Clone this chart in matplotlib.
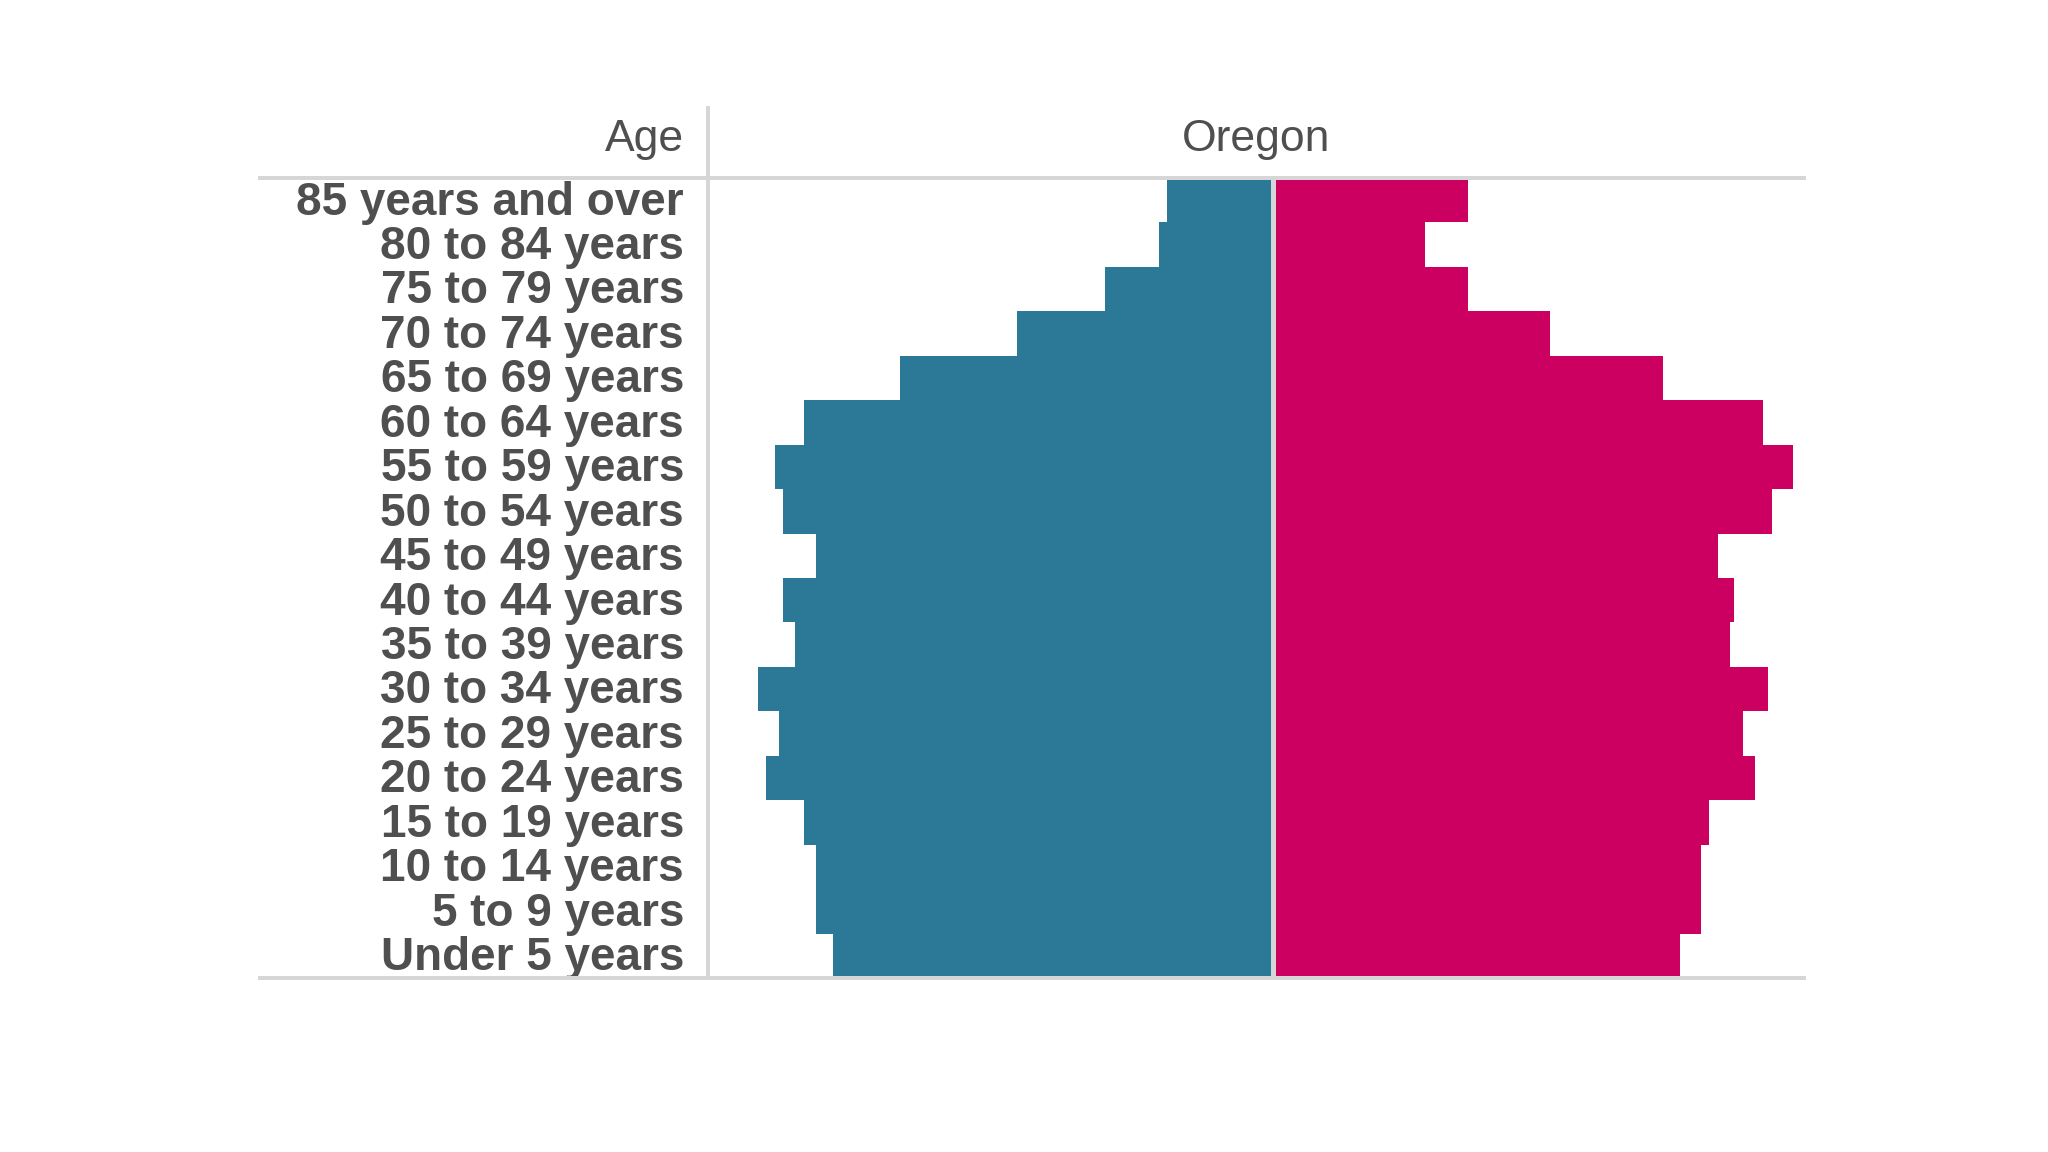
import numpy as np
import matplotlib
matplotlib.use("Agg")
from matplotlib import pyplot as plt
from matplotlib.lines import Line2D

# age groups, bottom to top
age_groups = ["Under 5 years", "5 to 9 years", "10 to 14 years", "15 to 19 years",
              "20 to 24 years", "25 to 29 years", "30 to 34 years", "35 to 39 years",
              "40 to 44 years", "45 to 49 years", "50 to 54 years", "55 to 59 years",
              "60 to 64 years", "65 to 69 years", "70 to 74 years", "75 to 79 years",
              "80 to 84 years", "85 years and over"]

# bar lengths (relative units)
male = [440, 457, 457, 469, 507, 494, 515, 478, 490, 457, 490, 498,
        469, 373, 256, 168, 114, 106]
female = [407, 428, 428, 436, 482, 470, 495, 457, 461, 445, 499, 520,
          490, 390, 277, 195, 152, 195]

male_color = "#2b7997"
female_color = "#cc0060"
rule_color = "#d6d6d6"
text_color = "#4f4f4f"

plt.rcParams["font.family"] = ["Liberation Sans", "DejaVu Sans"]

W, H = 2048, 1152
fig = plt.figure(figsize=(W / 100, H / 100), dpi=100)

# pixel layout
x_div, x_right, x_line_left = 708, 1804, 260
y_top, y_bot, y_div_top = 178, 978, 108
x_center = 1272.5

ax = fig.add_axes([x_div / W, 1 - y_bot / H, (x_right - x_div) / W, (y_bot - y_top) / H])

y = np.arange(len(age_groups))
ax.barh(y, -np.array(male), height=1.0, color=male_color, linewidth=0)
ax.barh(y, female, height=1.0, color=female_color, linewidth=0)
ax.axvline(0, color=rule_color, lw=5 * 0.72)

ax.set_xlim(-(x_center - x_div), x_right - x_center)
ax.set_ylim(-0.5, len(age_groups) - 0.5)
for s in ax.spines.values():
    s.set_visible(False)
ax.set_xticks([])
ax.set_yticks(y + 0.06)
ax.set_yticklabels(age_groups, fontsize=33, fontweight="bold", color=text_color)
ax.tick_params(axis="y", length=0, pad=(x_div - 684) * 0.72)

# header rules
lw = 4 * 0.72
fig.add_artist(Line2D([x_line_left / W, x_right / W], [1 - y_top / H] * 2, color=rule_color, lw=lw))
fig.add_artist(Line2D([x_line_left / W, x_right / W], [1 - y_bot / H] * 2, color=rule_color, lw=lw))
fig.add_artist(Line2D([x_div / W] * 2, [1 - y_div_top / H, 1 - y_bot / H], color=rule_color, lw=lw))

fig.text(684 / W, 1 - 140 / H, "Age", ha="right", va="center", fontsize=32, color=text_color)
fig.text((x_div + x_right) / 2 / W, 1 - 140 / H, "Oregon", ha="center", va="center",
         fontsize=32, color=text_color)

fig.savefig("out.png", dpi=100, facecolor="white")
